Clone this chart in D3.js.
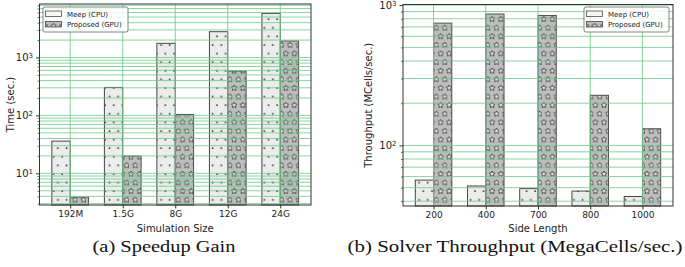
<!DOCTYPE html>
<html><head><meta charset="utf-8">
<script src="https://cdn.jsdelivr.net/npm/d3@7"></script>
<style>body{margin:0;background:#fff} svg{display:block}</style>
</head><body>
<svg id="c" width="685" height="267"></svg>
<script>
const sizeCats = ["192M","1.5G","8G","12G","24G"];
const timeCPU = [36, 305, 1760, 2790, 5800];
const timeGPU = [3.9, 19.9, 104, 585, 1930];
const sideCats = ["200","400","700","800","1000"];
const thrCPU = [56.6, 51.4, 49.2, 47.3, 43.2];
const thrGPU = [745, 865, 845, 228, 131.5];
const legendLabels = ["Meep (CPU)", "Proposed (GPU)"];
const xTitles = ["Simulation Size", "Side Length"];
const yTitles = ["Time (sec.)", "Throughput (MCells/sec.)"];
const captions = ["(a) Speedup Gain", "(b) Solver Throughput (MegaCells/sec.)"];

const svg = d3.select("#c");
const FONT = "DejaVu Sans, sans-serif";
const GRID = "#6cca88";
const CPU_FILL = "#ececec", GPU_FILL = "#bdbdbd";

// patterns
const defs = svg.append("defs");
const s = 8.6;
function starPath(cx, cy, r) {
  const pts = [];
  for (let i = 0; i < 10; i++) {
    const a = -Math.PI / 2 + i * Math.PI / 5;
    const rr = i % 2 === 0 ? r : r * 0.5;
    pts.push([cx + rr * Math.cos(a), cy + rr * Math.sin(a)]);
  }
  return d3.line()(pts) + "Z";
}
const centers = [[0,0],[s,0],[0,2*s],[s,2*s],[s/2,s]];
const pd = defs.append("pattern").attr("id","dots").attr("patternUnits","userSpaceOnUse")
  .attr("width", s).attr("height", 2*s);
pd.append("rect").attr("width", s).attr("height", 2*s).attr("fill", CPU_FILL);
centers.forEach(c => pd.append("circle").attr("cx", c[0]+2).attr("cy", c[1]+2).attr("r", 0.9).attr("fill", "#222"));
const ps = defs.append("pattern").attr("id","stars").attr("patternUnits","userSpaceOnUse")
  .attr("width", s).attr("height", 2*s);
ps.append("rect").attr("width", s).attr("height", 2*s).attr("fill", GPU_FILL);
centers.forEach(c => ps.append("path").attr("d", starPath(c[0]+2, c[1]+2, 3.0))
  .attr("fill", "#e4e4e4").attr("stroke", "#222").attr("stroke-width", 0.7));

function supLabel(sel) {
  sel.each(function(d) {
    const t = d3.select(this);
    const e = Math.round(Math.log10(d));
    t.text(null);
    t.append("tspan").text("10");
    t.append("tspan").attr("dy", "-0.45em").attr("font-size", "7px").text(e);
  });
}

function drawChart(cfg) {
  const {left, right, top, bottom, cats, cpu, gpu, ydom, legendX} = cfg;
  const g = svg.append("g");
  const x = d3.scaleLinear().domain([-0.585, cats.length - 1 + 0.585]).range([left, right]);
  const y = d3.scaleLog().domain(ydom).range([bottom, top]);
  const bw = 0.35;
  const idx = d3.range(cats.length);

  // bars
  g.selectAll(".cpu").data(idx).join("rect")
    .attr("x", i => x(i - bw)).attr("width", x(bw) - x(0))
    .attr("y", i => y(cpu[i])).attr("height", i => bottom - y(cpu[i]))
    .attr("fill", "url(#dots)").attr("stroke", "#333").attr("stroke-width", 0.9);
  g.selectAll(".gpu").data(idx).join("rect")
    .attr("x", i => x(i)).attr("width", x(bw) - x(0))
    .attr("y", i => y(gpu[i])).attr("height", i => bottom - y(gpu[i]))
    .attr("fill", "url(#stars)").attr("stroke", "#444").attr("stroke-width", 0.9);

  // grid values
  const lo = Math.floor(Math.log10(ydom[0])), hi = Math.ceil(Math.log10(ydom[1]));
  const major = [], minor = [];
  for (let e = lo; e <= hi; e++) {
    for (let m = 1; m <= 9; m++) {
      const v = m * Math.pow(10, e);
      if (v < ydom[0] * 0.999 || v > ydom[1] * 1.001) continue;
      (m === 1 ? major : minor).push(v);
    }
  }
  g.selectAll(".hg").data(major.concat(minor)).join("line")
    .attr("x1", left).attr("x2", right)
    .attr("y1", d => y(d)).attr("y2", d => y(d))
    .attr("stroke", GRID).attr("stroke-opacity", 0.8).attr("stroke-width", 1);
  g.selectAll(".vg").data(idx).join("line")
    .attr("x1", i => x(i)).attr("x2", i => x(i))
    .attr("y1", top).attr("y2", bottom)
    .attr("stroke", GRID).attr("stroke-opacity", 0.85).attr("stroke-width", 1);

  // axes
  const ax = g.append("g").attr("transform", `translate(0,${bottom})`)
    .call(d3.axisBottom(x).tickValues(idx).tickFormat(i => cats[i]).tickSize(3.5).tickPadding(2));
  ax.select(".domain").remove();
  ax.selectAll("text").attr("font-family", FONT).attr("font-size", "9px").attr("fill", "#222");
  ax.selectAll("line").attr("stroke", "#333");

  const ay = g.append("g").attr("transform", `translate(${left},0)`)
    .call(d3.axisLeft(y).tickValues(major).tickSize(3.5).tickPadding(3));
  ay.select(".domain").remove();
  ay.selectAll("text").attr("font-family", FONT).attr("font-size", "10px").attr("fill", "#222").call(supLabel);
  ay.selectAll("line").attr("stroke", "#333");
  const aym = g.append("g").attr("transform", `translate(${left},0)`)
    .call(d3.axisLeft(y).tickValues(minor).tickSize(2).tickFormat(""));
  aym.select(".domain").remove();
  aym.selectAll("line").attr("stroke", "#333").attr("stroke-width", 0.7);

  // frame
  g.append("rect").attr("x", left).attr("y", top).attr("width", right - left).attr("height", bottom - top)
    .attr("fill", "none").attr("stroke", "#333").attr("stroke-width", 1);

  // legend
  const lg = g.append("g").attr("transform", `translate(${legendX},7)`);
  lg.append("rect").attr("width", 85).attr("height", 25).attr("rx", 2)
    .attr("fill", "#fff").attr("fill-opacity", 0.85).attr("stroke", "#666").attr("stroke-width", 0.8);
  ["url(#dots)", "url(#stars)"].forEach((f, k) => {
    lg.append("rect").attr("x", 2.5).attr("y", 4 + k * 10.5).attr("width", 16).attr("height", 5.5)
      .attr("fill", k === 0 ? "#f6f6f6" : f).attr("stroke", "#333").attr("stroke-width", 0.7);
    lg.append("text").attr("x", 24).attr("y", 9.5 + k * 10.5).attr("font-family", FONT)
      .attr("font-size", "7px").attr("fill", "#222").text(legendLabels[k]);
  });

  // titles
  g.append("text").attr("x", (left + right) / 2).attr("y", 232).attr("text-anchor", "middle")
    .attr("font-family", FONT).attr("font-size", "10px").attr("fill", "#222").text(cfg.xTitle);
  g.append("text").attr("transform", `translate(${cfg.yTitleX},${(top + bottom) / 2}) rotate(-90)`)
    .attr("text-anchor", "middle").attr("dy", "0.35em")
    .attr("font-family", FONT).attr("font-size", "10px").attr("fill", "#222").text(cfg.yTitle);
  const capG = g.append("g").attr("transform", `translate(${cfg.capX},252)`);
  const cap = capG.append("text").attr("x", 0).attr("y", 0).attr("text-anchor", "middle")
    .attr("font-family", "Liberation Serif, serif").attr("font-size", "16px").attr("fill", "#111").text(cfg.caption);
  const w = cap.node().getComputedTextLength();
  if (w > 0) capG.attr("transform", `translate(${cfg.capX},252) scale(${(cfg.capW / w).toFixed(3)},1)`);
}

drawChart({left: 39.5, right: 311, top: 4, bottom: 205, cats: sizeCats, cpu: timeCPU, gpu: timeGPU,
  ydom: [2.84, 8400], legendX: 43, xTitle: xTitles[0], yTitle: yTitles[0], yTitleX: 10,
  caption: captions[0], capX: 164, capW: 143});
drawChart({left: 403, right: 673, top: 4.5, bottom: 206, cats: sideCats, cpu: thrCPU, gpu: thrGPU,
  ydom: [37, 1011], legendX: 584, xTitle: xTitles[1], yTitle: yTitles[1], yTitleX: 368,
  caption: captions[1], capX: 515, capW: 335});
</script>
</body></html>
